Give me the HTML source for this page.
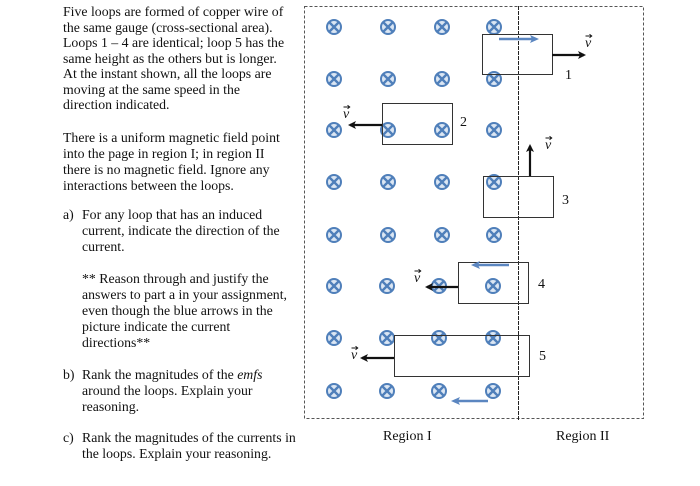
<!DOCTYPE html>
<html><head><meta charset="utf-8"><style>
body{margin:0;background:#fff;width:700px;height:486px;position:relative;overflow:hidden;font-family:"Liberation Serif",serif;font-size:13.8px;color:#111}
.l{position:absolute;white-space:nowrap;line-height:16px}
</style></head><body>
<div class="l" style="left:63px;top:4px">Five loops are formed of copper wire of</div>
<div class="l" style="left:63px;top:20px">the same gauge (cross-sectional area).</div>
<div class="l" style="left:63px;top:35px">Loops 1 – 4 are identical; loop 5 has the</div>
<div class="l" style="left:63px;top:51px">same height as the others but is longer.</div>
<div class="l" style="left:63px;top:66px">At the instant shown, all the loops are</div>
<div class="l" style="left:63px;top:82px">moving at the same speed in the</div>
<div class="l" style="left:63px;top:97px">direction indicated.</div>
<div class="l" style="left:63px;top:130px">There is a uniform magnetic field point</div>
<div class="l" style="left:63px;top:146px">into the page in region I; in region II</div>
<div class="l" style="left:63px;top:162px">there is no magnetic field. Ignore any</div>
<div class="l" style="left:63px;top:178px">interactions between the loops.</div>
<div class="l" style="left:63px;top:207px">a)</div>
<div class="l" style="left:82px;top:207px">For any loop that has an induced</div>
<div class="l" style="left:82px;top:223px">current, indicate the direction of the</div>
<div class="l" style="left:82px;top:239px">current.</div>
<div class="l" style="left:82px;top:271px">** Reason through and justify the</div>
<div class="l" style="left:82px;top:287px">answers to part a in your assignment,</div>
<div class="l" style="left:82px;top:303px">even though the blue arrows in the</div>
<div class="l" style="left:82px;top:319px">picture indicate the current</div>
<div class="l" style="left:82px;top:335px">directions**</div>
<div class="l" style="left:63px;top:367px">b)</div>
<div class="l" style="left:82px;top:367px">Rank the magnitudes of the <i>emfs</i></div>
<div class="l" style="left:82px;top:383px">around the loops. Explain your</div>
<div class="l" style="left:82px;top:399px">reasoning.</div>
<div class="l" style="left:63px;top:430px">c)</div>
<div class="l" style="left:82px;top:430px">Rank the magnitudes of the currents in</div>
<div class="l" style="left:82px;top:446px">the loops. Explain your reasoning.</div>

<svg width="700" height="486" style="position:absolute;left:0;top:0" xmlns="http://www.w3.org/2000/svg">
<defs>
<g id="x"><circle r="7" fill="#dbe6f3" stroke="#4f7fba" stroke-width="2"/><path d="M-4.5,-4.5L4.5,4.5M4.5,-4.5L-4.5,4.5" stroke="#4f7fba" stroke-width="2.4"/></g>
<marker id="ab" markerWidth="8" markerHeight="8" refX="6" refY="4" orient="auto" markerUnits="userSpaceOnUse"><path d="M0,0L8,4L0,8L2,4Z" fill="#111"/></marker>
<marker id="bl" markerWidth="9" markerHeight="8" refX="6" refY="4" orient="auto" markerUnits="userSpaceOnUse"><path d="M0,0L9,4L0,8L2,4Z" fill="#5b86c0"/></marker>
<g id="va"><path d="M0.5,0H6.5M4.5,-1.8L6.8,0L4.5,1.8" stroke="#111" stroke-width="0.9" fill="none"/></g>
</defs>
<rect x="304.5" y="6.5" width="339" height="412" fill="none" stroke="#555" stroke-dasharray="3,2" stroke-width="1"/>
<line x1="518.5" y1="6" x2="518.5" y2="420" stroke="#222" stroke-dasharray="4,1" stroke-width="1"/>
<g>
<use href="#x" x="334" y="27"/><use href="#x" x="388" y="27"/><use href="#x" x="442" y="27"/><use href="#x" x="494" y="27"/>
<use href="#x" x="334" y="79"/><use href="#x" x="388" y="79"/><use href="#x" x="442" y="79"/><use href="#x" x="494" y="79"/>
<use href="#x" x="334" y="130"/><use href="#x" x="388" y="130"/><use href="#x" x="442" y="130"/><use href="#x" x="494" y="130"/>
<use href="#x" x="334" y="182"/><use href="#x" x="388" y="182"/><use href="#x" x="442" y="182"/><use href="#x" x="494" y="182"/>
<use href="#x" x="334" y="235"/><use href="#x" x="388" y="235"/><use href="#x" x="442" y="235"/><use href="#x" x="494" y="235"/>
<use href="#x" x="334" y="286"/><use href="#x" x="387" y="286"/><use href="#x" x="439" y="286"/><use href="#x" x="493" y="286"/>
<use href="#x" x="334" y="338"/><use href="#x" x="387" y="338"/><use href="#x" x="439" y="338"/><use href="#x" x="493" y="338"/>
<use href="#x" x="334" y="391"/><use href="#x" x="387" y="391"/><use href="#x" x="439" y="391"/><use href="#x" x="493" y="391"/>
</g>
<g fill="none" stroke="#333" stroke-width="1">
<rect x="482.5" y="34.5" width="70" height="40"/>
<rect x="382.5" y="103.5" width="70" height="41"/>
<rect x="483.5" y="176.5" width="70" height="41"/>
<rect x="458.5" y="262.5" width="70" height="41"/>
<rect x="394.5" y="335.5" width="135" height="41"/>
</g>
<g stroke="#111" stroke-width="2.2">
<line x1="552" y1="55" x2="584" y2="55" marker-end="url(#ab)"/>
<line x1="382" y1="125" x2="350" y2="125" marker-end="url(#ab)"/>
<line x1="530" y1="176" x2="530" y2="146" marker-end="url(#ab)"/>
<line x1="458" y1="287" x2="427" y2="287" marker-end="url(#ab)"/>
<line x1="394" y1="358" x2="362" y2="358" marker-end="url(#ab)"/>
</g>
<g stroke="#5b86c0" stroke-width="2.5">
<line x1="499" y1="39" x2="536" y2="39" marker-end="url(#bl)"/>
<line x1="509" y1="265" x2="474" y2="265" marker-end="url(#bl)"/>
<line x1="488" y1="401" x2="454" y2="401" marker-end="url(#bl)"/>
</g>
<g font-family="Liberation Serif,serif" font-size="14" fill="#111">
<text x="585" y="47" font-style="italic">v</text><use href="#va" x="585" y="36"/>
<text x="343" y="118" font-style="italic">v</text><use href="#va" x="343" y="107"/>
<text x="545" y="149" font-style="italic">v</text><use href="#va" x="545" y="138"/>
<text x="414" y="282" font-style="italic">v</text><use href="#va" x="414" y="271"/>
<text x="351" y="359" font-style="italic">v</text><use href="#va" x="351" y="348"/>
<text x="565" y="79">1</text>
<text x="460" y="126">2</text>
<text x="562" y="204">3</text>
<text x="538" y="288">4</text>
<text x="539" y="360">5</text>
<text x="383" y="440">Region I</text>
<text x="556" y="440">Region II</text>
</g>
</svg>
</body></html>
